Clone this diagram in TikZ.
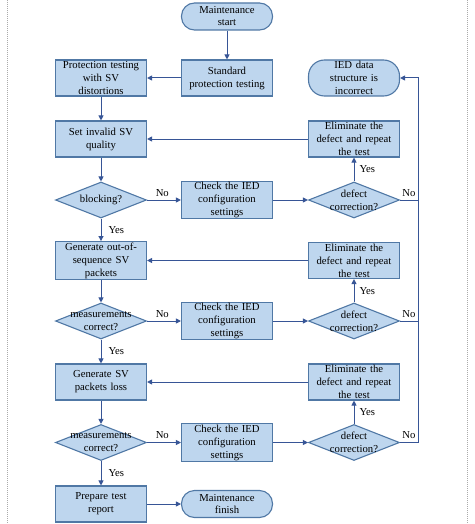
\documentclass[tikz,border=0pt]{standalone}
\usepackage{fontspec}
\setmainfont{Liberation Serif}
\usetikzlibrary{shapes.geometric,arrows.meta}
\definecolor{boxfill}{RGB}{190,214,238}
\definecolor{boxline}{RGB}{80,120,165}
\definecolor{arr}{RGB}{55,85,150}
\definecolor{frame}{RGB}{170,170,170}
\tikzset{
  box/.style={draw=boxline, line width=1.1pt, fill=boxfill, minimum width=91pt, minimum height=36pt, inner sep=1pt, text width=86pt, align=center, font=\fontsize{10.7}{13}\selectfont},
  term/.style={box, rounded corners=13pt},
  dia/.style={diamond, draw=boxline, line width=1.1pt, fill=boxfill, minimum width=91pt, minimum height=36pt, inner sep=0pt},
  dtext/.style={align=center, inner sep=0pt, font=\fontsize{10.7}{13}\selectfont},
  lab/.style={inner sep=0pt, font=\fontsize{10.7}{13}\selectfont},
  conn/.style={draw=arr, line width=1pt, -{Triangle[length=5pt,width=5pt]}},
  plain/.style={draw=arr, line width=1pt}
}
\begin{document}
\begin{tikzpicture}[x=1pt,y=-1pt]
\useasboundingbox (0,0) rectangle (474,524);
\draw[frame, line width=1pt, dash pattern=on 1pt off 1pt] (7,0) -- (7,524);
\draw[frame, line width=1pt, dash pattern=on 1pt off 1pt] (467,0) -- (467,524);

\node[term, minimum height=27pt] (start) at (227,16.5) {Maintenance\\[-1pt]start};
\node[box] (std) at (227,78) {Standard\\protection testing};
\node[box] (prot) at (101,78) {Protection testing\\with SV\\distortions};
\node[term, rounded corners=16pt] (ied) at (354,78) {IED data\\structure is\\incorrect};

\node[box] (set) at (101,139) {Set invalid SV\\quality};
\node[box] (elim1) at (354,139) {Eliminate the\\defect and repeat\\the test};
\node[dia] (block) at (101,200) {};
\node[dtext] (blockt) at (101,200) {blocking?};
\node[box] (check1) at (227,200) {Check the IED\\configuration\\settings};
\node[dia] (def1) at (354,200) {};
\node[dtext] (def1t) at (354,200) {defect\\correction?};

\node[box] (gen1) at (101,260.5) {Generate out-of-\\sequence SV\\packets};
\node[box] (elim2) at (354,260.5) {Eliminate the\\defect and repeat\\the test};
\node[dia] (meas1) at (101,321) {};
\node[dtext] (meas1t) at (101,321) {measurements\\correct?};
\node[box] (check2) at (227,321) {Check the IED\\configuration\\settings};
\node[dia] (def2) at (354,321) {};
\node[dtext] (def2t) at (354,321) {defect\\correction?};

\node[box] (gen2) at (101,382) {Generate SV\\packets loss};
\node[box] (elim3) at (354,382) {Eliminate the\\defect and repeat\\the test};
\node[dia] (meas2) at (101,442.5) {};
\node[dtext] (meas2t) at (101,442.5) {measurements\\correct?};
\node[box] (check3) at (227,442.5) {Check the IED\\configuration\\settings};
\node[dia] (def3) at (354,442.5) {};
\node[dtext] (def3t) at (354,442.5) {defect\\correction?};

\node[box] (prep) at (101,504) {Prepare test\\report};
\node[term, minimum height=27pt] (fin) at (227,504) {Maintenance\\[-1pt]finish};

\coordinate (r1) at (418,200);
\coordinate (r2) at (418,321);
\coordinate (r3) at (418,442.5);
\coordinate (rt) at (418,78);

\draw[conn] (start) -- (std);
\draw[conn] (std) -- (prot);
\draw[conn] (prot) -- (set);
\draw[conn] (set) -- (block);
\draw[conn] (block) -- node[lab, above, yshift=3pt, pos=0.45] (no1) {No} (check1);
\draw[conn] (check1) -- (def1);
\draw[conn] (def1) -- node[lab, right, xshift=5pt] (yes1) {Yes} (elim1);
\draw[conn] (elim1) -- (set);
\draw[conn] (block) -- node[lab, right, xshift=7pt] (yes2) {Yes} (gen1);

\draw[conn] (gen1) -- (meas1);
\draw[conn] (meas1) -- node[lab, above, yshift=3pt, pos=0.45] (no2) {No} (check2);
\draw[conn] (check2) -- (def2);
\draw[conn] (def2) -- node[lab, right, xshift=5pt] (yes3) {Yes} (elim2);
\draw[conn] (elim2) -- (gen1);
\draw[conn] (meas1) -- node[lab, right, xshift=7pt] (yes4) {Yes} (gen2);

\draw[conn] (gen2) -- (meas2);
\draw[conn] (meas2) -- node[lab, above, yshift=3pt, pos=0.45] (no3) {No} (check3);
\draw[conn] (check3) -- (def3);
\draw[conn] (def3) -- node[lab, right, xshift=5pt] (yes5) {Yes} (elim3);
\draw[conn] (elim3) -- (gen2);
\draw[conn] (meas2) -- node[lab, right, xshift=7pt] (yes6) {Yes} (prep);
\draw[conn] (prep) -- (fin);

\draw[plain] (def1.east) -- node[lab, above, yshift=3pt] (no4) {No} (r1);
\draw[plain] (def2.east) -- node[lab, above, yshift=3pt] (no5) {No} (r2);
\draw[plain] (def3.east) -- node[lab, above, yshift=3pt] (no6) {No} (r3);
\draw[conn] (r3) -- (rt) -- (ied.east);
\end{tikzpicture}
\end{document}
